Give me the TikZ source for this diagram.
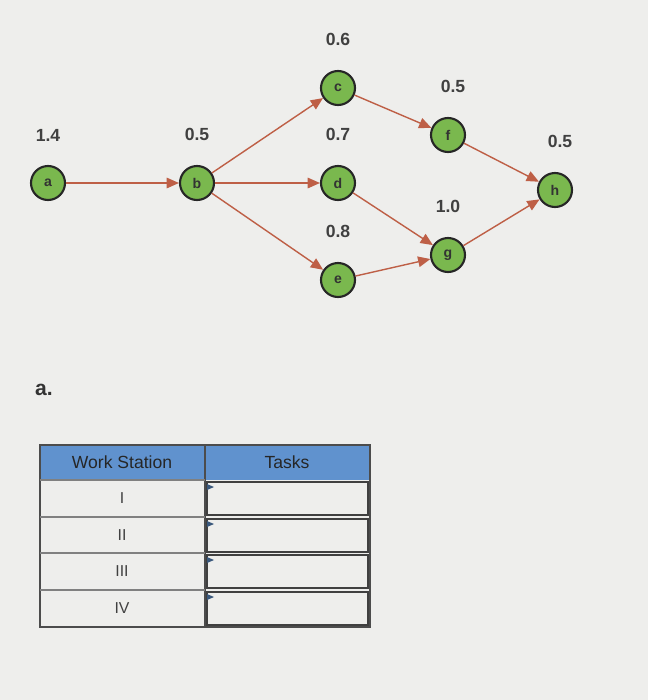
\documentclass[tikz,border=0pt]{standalone}
\usepackage{fontspec}
\setmainfont{Liberation Sans}
\usetikzlibrary{arrows.meta,positioning}
\definecolor{nodegreen}{RGB}{122,184,78}
\definecolor{arrowred}{RGB}{190,95,70}
\definecolor{headblue}{RGB}{96,146,206}
\definecolor{bg}{RGB}{238,238,236}
\begin{document}
\begin{tikzpicture}[x=0.02cm,y=-0.02cm, ->, >={Triangle[length=7pt,width=6pt]}, semithick]
		\tikzset{task/.style={circle,fill=nodegreen,draw=black!85,very thick,minimum size=0.68cm,inner sep=0pt,text=black!80,font=\footnotesize\bfseries},
		time/.style={above=0.35cm,font=\bfseries,text=black!75},
		link/.style={draw=arrowred,fill=arrowred,thick}}
		\fill[bg] (0,0) rectangle (648,700);
		\useasboundingbox (0,0) rectangle (648,700);
		\node[task] (a) at (48,183)  {a};
		\node[task] (b) at (197,183) {b};
		\node[task] (c) at (338,88)  {c};
		\node[task] (d) at (338,183) {d};
		\node[task] (e) at (338,280) {e};
		\node[task] (f) at (448,135) {f};
		\node[task] (g) at (448,255) {g};
		\node[task] (h) at (555,190) {h};
		\node[time] at (a.north) {1.4};
		\node[time] at (b.north) {0.5};
		\node[time] at (c.north) {0.6};
		\node[time] at (d.north) {0.7};
		\node[time] at (e.north) {0.8};
		\node[time,xshift=0.1cm] at (f.north) {0.5};
		\node[time] at (g.north) {1.0};
		\node[time,xshift=0.1cm] at (h.north) {0.5};
		\path[link]
		(a) edge (b)
		(b) edge (c)
		(b) edge (d)
		(b) edge (e)
		(c) edge (f)
		(d) edge (g)
		(e) edge (g)
		(f) edge (h)
		(g) edge (h);
		\node[font=\bfseries\large,text=black!80] (part) at (44,390) {a.};
		% table
		\begin{scope}[-]
		\fill[headblue] (40,445) rectangle (370,480);
		\draw[black!70,thick] (40,445) rectangle (370,627);
		\draw[black!70,thick] (205,445) -- (205,627);
		\foreach \y in {480,517,553,590} \draw[black!50] (40,\y) -- (205,\y);
		\foreach \y/\t in {480/I,517/II,553/III,590/IV} {
			\node[font=\small,text=black!75] at (122,\y+18) {\t};
			\draw[black!75,thick] (207,\y+2) rectangle (368,\y+35);
			\fill[headblue!60!black] (207,\y+4) -- (214,\y+7) -- (207,\y+10) -- cycle;
		}
		\node[text=black!85] (ws) at (122,462) {Work Station};
		\node[text=black!85] (tk) at (287,462) {Tasks};
		\end{scope}
	\end{tikzpicture}
\end{document}
